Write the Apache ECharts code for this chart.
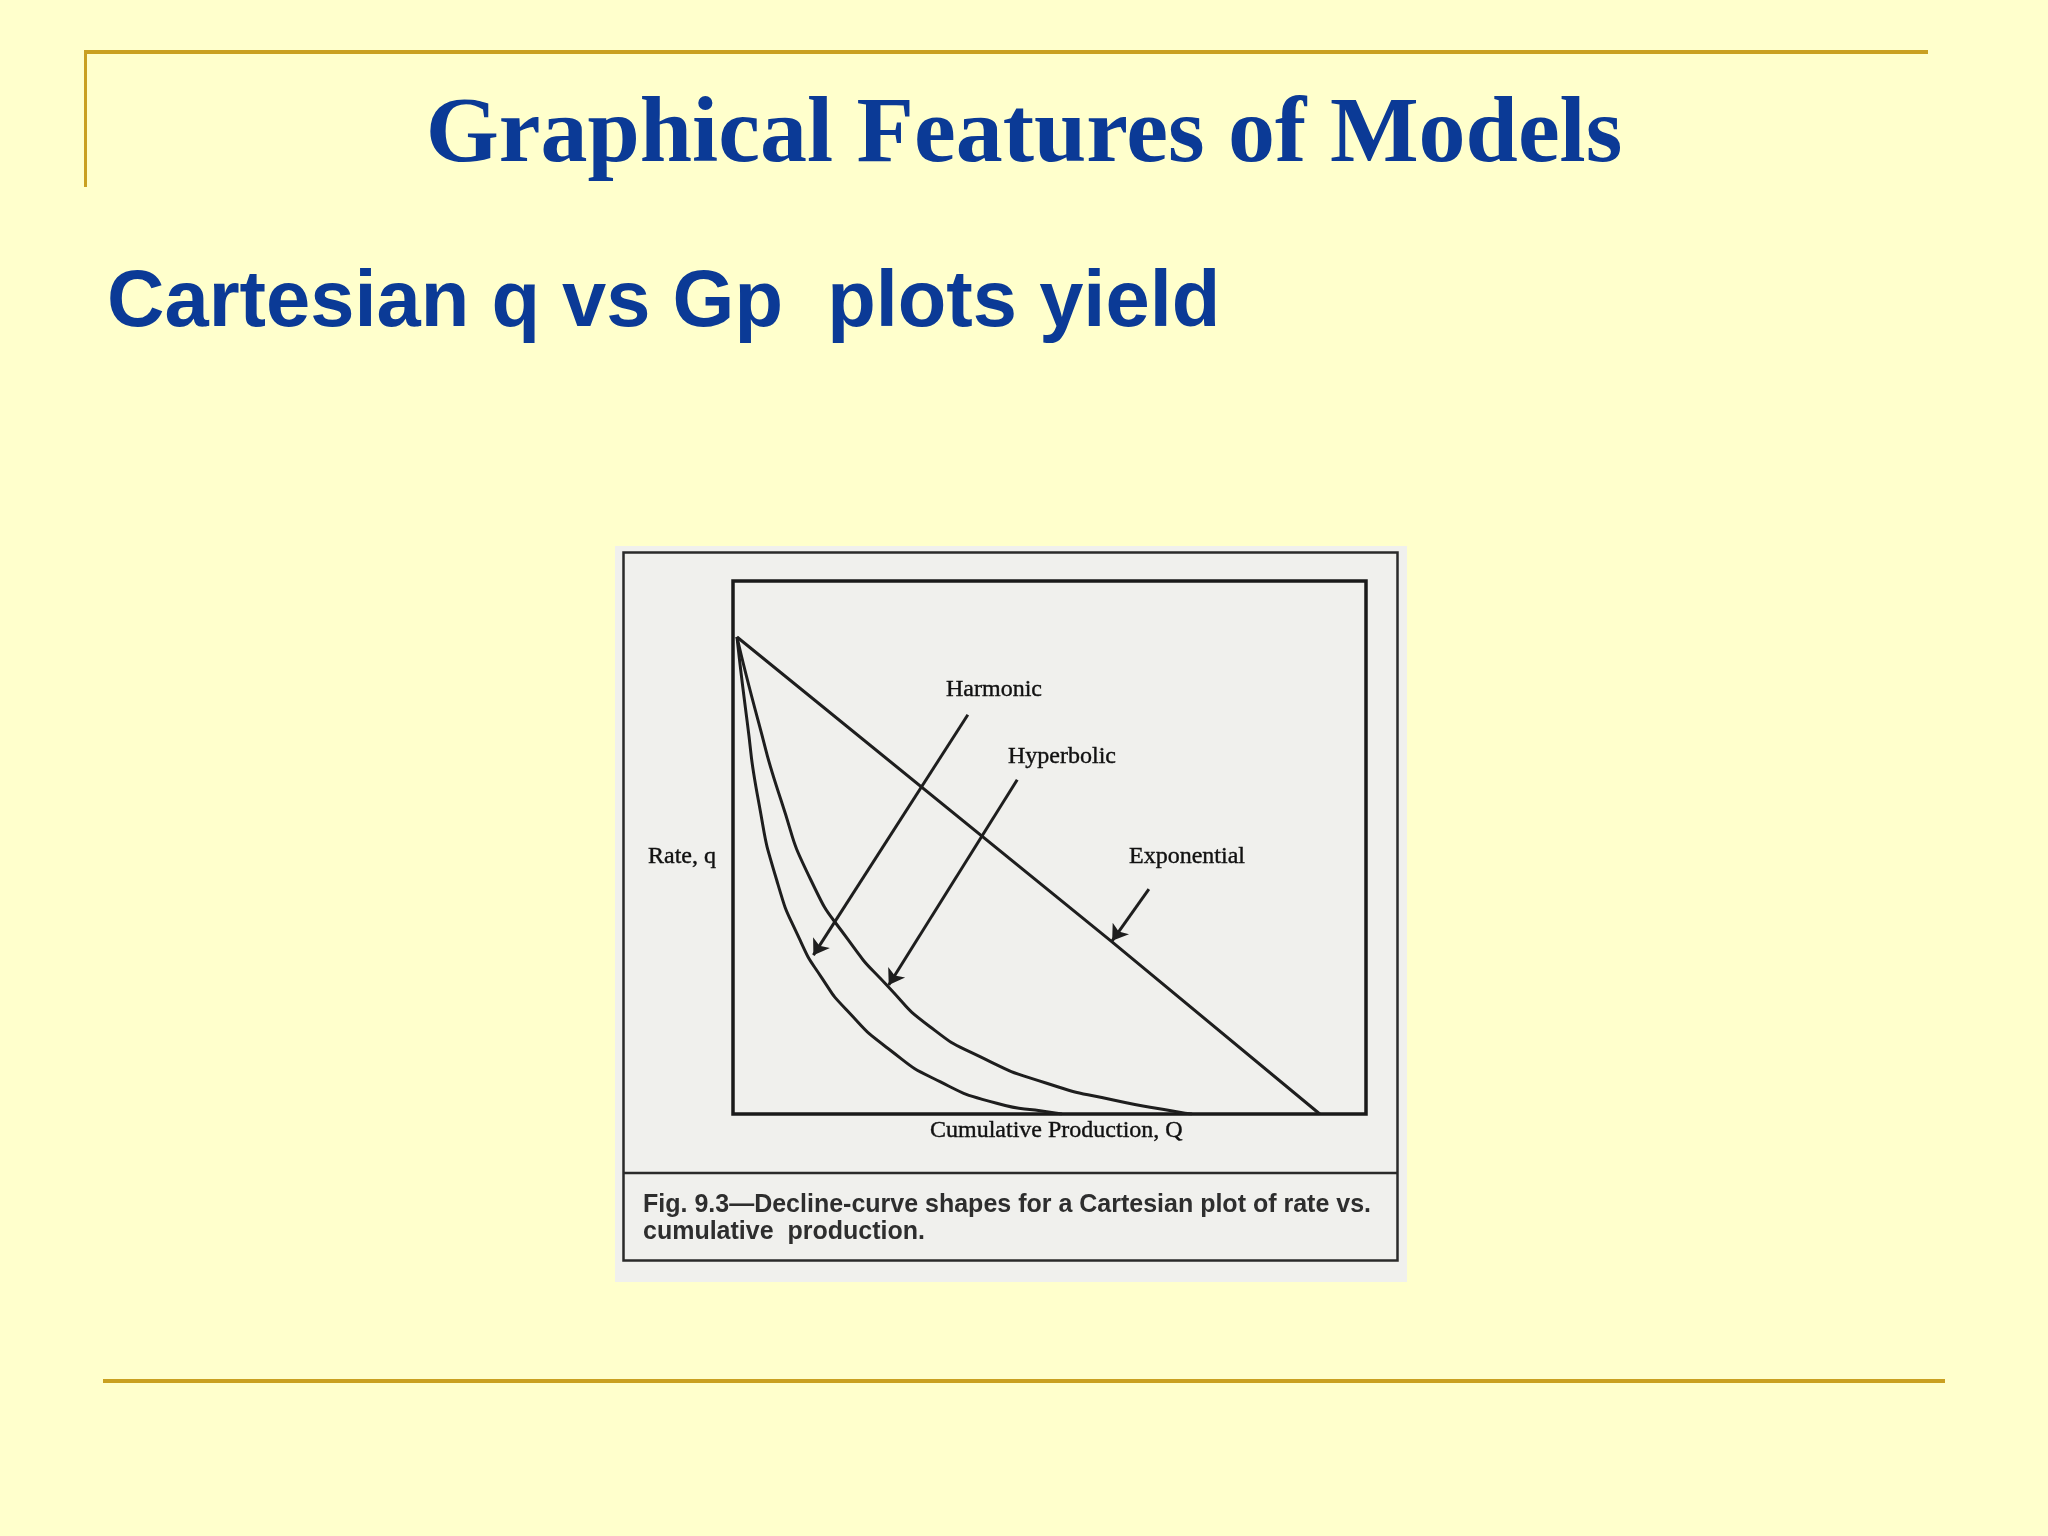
<!DOCTYPE html>
<html>
<head>
<meta charset="utf-8">
<script src="https://cdn.jsdelivr.net/npm/echarts@6/dist/echarts.min.js"></script>
<style>
  html, body { margin: 0; padding: 0; background: #FFFFCC; }
  #main { width: 2048px; height: 1536px; }
</style>
</head>
<body>
<div id="main"></div>
<script>
// values (Q and q in % of the plot box)
const harmonicQ = [0.63, 2.21, 4.00, 6.90, 10.58, 14.0, 17.96, 24.80, 32.70, 41.66, 49.56, 51.97]
const harmonicRate = [89.5, 73.9, 58.9, 43.9, 32.65, 25.6, 19.5, 12.0, 6.06, 2.01, 0.43, 0]

const hyperbolicQ = [0.63, 3.95, 7.58, 12.3, 18.21, 24.53, 31.12, 39.02, 49.56, 60.08, 70.09, 72.51]
const hyperbolicRate = [89.5, 73.9, 58.9, 43.9, 32.65, 23.88, 16.38, 10.75, 5.76, 2.63, 0.43, 0]

const exponentialQ = [0.63, 59.83, 92.7]
const exponentialRate = [89.5, 32.33, 0]

// arrows: [from, to]
const harmonicArrow = [[37.1, 74.9], [12.7, 29.8]]
const hyperbolicArrow = [[44.9, 62.7], [24.6, 24.2]]
const exponentialArrow = [[65.7, 42.2], [59.9, 32.5]]

const gold = '#C9A021'
const blue = '#0B3A96'
const ink = '#1e1e1e'

function pairs(xs, ys) {
    return xs.map((x, i) => [x, ys[i]])
}

function label(text, x, y) {
    return {
        type: 'text',
        x: x,
        y: y,
        z: 5,
        style: {
            text: text,
            font: '24px "Liberation Serif"',
            fill: '#111',
            stroke: '#111',
            lineWidth: 0.4,
            align: 'left',
            verticalAlign: 'middle',
            textAlign: 'left',
            textVerticalAlign: 'middle'
        }
    }
}

const myChart = echarts.init(document.getElementById('main'))

const curveStyle = {
    type: 'line',
    showSymbol: false,
    smooth: 0.6,
    silent: true,
    lineStyle: { color: ink, width: 3 }
}

const option = {
    backgroundColor: '#FFFFCC',
    animation: false,
    grid: {
        left: 733,
        top: 581,
        width: 633,
        height: 533,
        show: true,
        borderColor: '#1a1a1a',
        borderWidth: 3.5,
        backgroundColor: 'transparent'
    },
    xAxis: {
        type: 'value',
        min: 0,
        max: 100,
        axisLine: { show: false },
        axisTick: { show: false },
        axisLabel: { show: false },
        splitLine: { show: false }
    },
    yAxis: {
        type: 'value',
        min: 0,
        max: 100,
        axisLine: { show: false },
        axisTick: { show: false },
        axisLabel: { show: false },
        splitLine: { show: false }
    },
    graphic: [
        // slide decoration
        { type: 'line', shape: { x1: 84, y1: 52, x2: 1928, y2: 52 }, style: { stroke: gold, lineWidth: 4 } },
        { type: 'line', shape: { x1: 85.5, y1: 50, x2: 85.5, y2: 187 }, style: { stroke: gold, lineWidth: 3 } },
        { type: 'line', shape: { x1: 103, y1: 1381, x2: 1945, y2: 1381 }, style: { stroke: gold, lineWidth: 4 } },
        {
            type: 'text',
            x: 1024,
            y: 137,
            style: {
                text: 'Graphical Features of Models',
                font: 'bold 94px "Liberation Serif"',
                fill: blue,
                align: 'center',
                verticalAlign: 'middle',
                textAlign: 'center',
                textVerticalAlign: 'middle'
            }
        },
        {
            type: 'text',
            x: 107,
            y: 304,
            style: {
                text: 'Cartesian q vs Gp  plots yield',
                font: 'bold 79.5px "Liberation Sans"',
                fill: blue,
                align: 'left',
                verticalAlign: 'middle',
                textAlign: 'left',
                textVerticalAlign: 'middle'
            }
        },
        // scanned figure
        {
            type: 'rect',
            z: -10,
            shape: { x: 615, y: 546, width: 792, height: 736 },
            style: { fill: '#F0F0ED' }
        },
        {
            type: 'rect',
            z: -5,
            shape: { x: 623.5, y: 552.5, width: 774, height: 708 },
            style: { fill: 'none', stroke: '#2a2a2a', lineWidth: 2.5 }
        },
        { type: 'line', shape: { x1: 623.5, y1: 1173, x2: 1397.5, y2: 1173 }, style: { stroke: '#2a2a2a', lineWidth: 2.5 } },
        label('Harmonic', 946, 690),
        label('Hyperbolic', 1008, 757),
        label('Exponential', 1129, 857),
        label('Rate, q', 648, 857),
        label('Cumulative Production, Q', 930, 1131),
        {
            type: 'text',
            x: 643,
            y: 1205,
            style: {
                text: 'Fig. 9.3\u2014Decline-curve shapes for a Cartesian plot of rate vs.',
                font: 'bold 25px "Liberation Sans"',
                fill: '#2e2e2e',
                align: 'left',
                verticalAlign: 'middle',
                textAlign: 'left',
                textVerticalAlign: 'middle'
            }
        },
        {
            type: 'text',
            x: 643,
            y: 1232,
            style: {
                text: 'cumulative  production.',
                font: 'bold 25px "Liberation Sans"',
                fill: '#2e2e2e',
                align: 'left',
                verticalAlign: 'middle',
                textAlign: 'left',
                textVerticalAlign: 'middle'
            }
        }
    ],
    series: [
        Object.assign({ name: 'Harmonic', data: pairs(harmonicQ, harmonicRate) }, curveStyle),
        Object.assign({ name: 'Hyperbolic', data: pairs(hyperbolicQ, hyperbolicRate) }, curveStyle),
        Object.assign({}, curveStyle, { name: 'Exponential', smooth: false, data: pairs(exponentialQ, exponentialRate) }),
        {
            type: 'lines',
            coordinateSystem: 'cartesian2d',
            silent: true,
            symbol: ['none', 'arrow'],
            symbolSize: 15,
            lineStyle: { color: ink, width: 3, opacity: 1, curveness: 0 },
            data: [
                { coords: harmonicArrow },
                { coords: hyperbolicArrow },
                { coords: exponentialArrow }
            ]
        }
    ]
}

myChart.setOption(option)
</script>
</body>
</html>
